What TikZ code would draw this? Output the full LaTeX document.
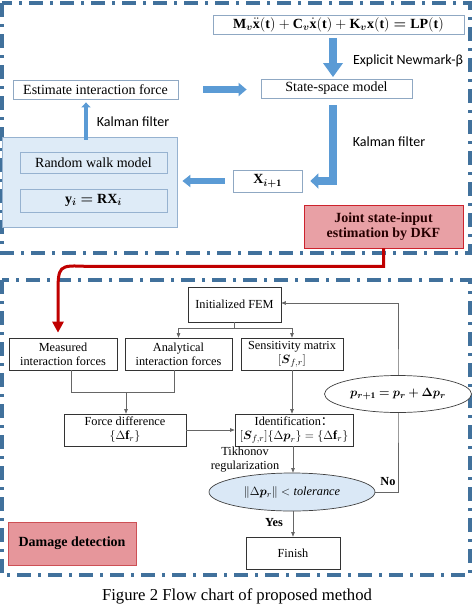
\documentclass[tikz,border=0pt]{standalone}
\usepackage{amsmath}
\usepackage{fontspec}
\setmainfont{Liberation Serif}
\newfontfamily\carl{Carlito}
\newfontfamily\cjk{Noto Sans CJK SC}
\usetikzlibrary{arrows.meta,shapes.geometric,backgrounds,calc}
\definecolor{barrowc}{RGB}{91,155,213}
\definecolor{framec}{RGB}{65,113,156}
\definecolor{panelfill}{RGB}{222,235,247}
\definecolor{panelline}{RGB}{150,178,208}
\definecolor{topline}{RGB}{143,168,195}
\definecolor{jointfill}{RGB}{232,160,165}
\definecolor{jointline}{RGB}{205,35,45}
\definecolor{dmgfill}{RGB}{230,150,155}
\definecolor{dmgline}{RGB}{205,80,85}
\definecolor{redarr}{RGB}{192,0,0}
\definecolor{tolfill}{RGB}{218,232,246}
\newcommand\topfs{\fontsize{14}{16}\selectfont}
\newcommand\botfs{\fontsize{12.3}{14}\selectfont}
\newcommand\bs[1]{\boldsymbol{#1}}
\tikzset{
  dframe/.style={draw=framec,line width=3.5pt,dash pattern=on 14pt off 7pt on 3pt off 7pt},
  topbox/.style={draw=topline,line width=0.8pt,fill=white,inner sep=0pt,font=\topfs},
  inbox/.style={draw=panelline,line width=0.8pt,fill=panelfill,inner sep=0pt,font=\topfs},
  botbox/.style={draw=black!80,line width=0.7pt,fill=white,inner sep=0pt,align=center,font=\botfs},
  lbl/.style={font=\carl\fontsize{14}{16}\selectfont,inner sep=0pt},
  barrow/.style={draw=barrowc,line join=miter},
  conn/.style={draw=black!60,line width=0.6pt,-{Triangle[length=4.5pt,width=3.5pt]}},
  plain/.style={draw=black!60,line width=0.6pt},
}
\begin{document}
\begin{tikzpicture}[x=1pt,y=-1pt]
\useasboundingbox (0,0) rectangle (474,606);
\draw[dframe] (2,3) rectangle (470,253);
\draw[dframe] (2,280) rectangle (470,575);
\node[topbox,minimum width=165pt,minimum height=19pt] (est) at (95.5,89.5) {Estimate interaction force};
\node[topbox,minimum width=151pt,minimum height=19pt] (ss) at (336.5,88.5) {State-space model};
\node[topbox,minimum width=251pt,minimum height=19pt] (eqn) at (338.5,24.5) {$\mathbf{M}_{\bs{v}}\ddot{\mathbf{x}}(\mathbf{t})+\mathbf{C}_{\bs{v}}\dot{\mathbf{x}}(\mathbf{t})+\mathbf{K}_{\bs{v}}\mathbf{x}(\mathbf{t})\bs{=}\mathbf{LP}(\mathbf{t})$};
\node[draw=panelline,line width=0.8pt,fill=panelfill,minimum width=175pt,minimum height=90pt,inner sep=0pt] (panel) at (89.5,182) {};
\node[inbox,minimum width=147pt,minimum height=21pt] (rw) at (93.5,162.5) {Random walk model};
\node[inbox,minimum width=147pt,minimum height=23pt] (yi) at (93.5,200.5) {$\mathbf{y}_{\bs{i}}\bs{=}\mathbf{RX}_{\bs{i}}$};
\node[topbox,minimum width=69pt,minimum height=22pt] (X) at (267.5,181) {$\mathbf{X}_{\bs{i}\bs{+}\mathbf{1}}$};
\node[draw=jointline,line width=0.9pt,fill=jointfill,minimum width=159pt,minimum height=43pt,inner sep=0pt,align=center,font=\bfseries\fontsize{14}{15}\selectfont,text=black!85!red] (joint) at (383.5,226.5) {Joint state-input\\estimation by DKF};
\node[lbl] (lnew) at (408,61) {Explicit Newmark-β};
\node[lbl] (lk1) at (133,122) {Kalman filter};
\node[lbl] (lk2) at (389,142) {Kalman filter};
\draw[barrow,line width=8pt,-{Triangle[length=14pt,width=19pt]}] ([xshift=-5.5pt,yshift=-4pt]eqn.south) -- ([xshift=-3.5pt,yshift=1.5pt]ss.north);
\draw[barrow,line width=6.5pt,-{Triangle[length=8pt,width=13pt]}] ([xshift=25pt]est.east) -- ([xshift=-14pt]ss.west |- est.east);
\draw[barrow,line width=4pt,-{Triangle[length=5pt,width=9pt]}] ([xshift=-3.5pt,yshift=-3pt]panel.north) -- ([xshift=-9.5pt,yshift=-3pt]est.south);
\draw[barrow,line width=7.5pt,-{Triangle[length=8pt,width=15pt]}] ([xshift=-3.5pt,yshift=-7pt]ss.south) |- ([xshift=8pt]X.east);
\draw[barrow,line width=6pt,-{Triangle[length=8pt,width=12pt]}] ([xshift=-8pt]X.west) -- ([xshift=5pt]panel.east |- X.west);
\node[botbox,minimum width=93pt,minimum height=35pt] (fem) at (234.5,304.5) {Initialized FEM};
\node[botbox,minimum width=108pt,minimum height=32pt] (meas) at (63,354) {Measured\\interaction forces};
\node[botbox,minimum width=107pt,minimum height=32pt] (anal) at (178.5,354) {Analytical\\interaction forces};
\node[botbox,minimum width=102pt,minimum height=32pt] (sens) at (292,354) {Sensitivity matrix\\$[\bs{S}_{f,r}]$};
\node[botbox,minimum width=122pt,minimum height=32pt] (fdiff) at (125,430) {Force difference\\$\{\Delta\mathbf{f}_r\}$};
\node[botbox,minimum width=118pt,minimum height=32pt] (ident) at (294,430) {Identification{\cjk ：}\\$[\bs{S}_{f,r}]\{\Delta\bs{p}_r\}=\{\Delta\mathbf{f}_r\}$};
\node[ellipse,draw=black!75,line width=0.7pt,fill=white,minimum width=147pt,minimum height=37pt,inner sep=0pt,font=\botfs] (pell) at (398,394) {$\bs{p}_{\bs{r}\bs{+}\mathbf{1}}\bs{=}\bs{p}_{\bs{r}}\bs{+}\bs{\Delta}\bs{p}_{\bs{r}}$};
\node[ellipse,draw=black!75,line width=0.7pt,fill=tolfill,minimum width=166pt,minimum height=38pt,inner sep=0pt,font=\botfs] (tol) at (292,492) {$\|\Delta\bs{p}_r\|<\textit{tolerance}$};
\node[botbox,minimum width=94pt,minimum height=32pt] (fin) at (293,553) {Finish};
\node[draw=dmgline,line width=0.9pt,fill=dmgfill,minimum width=128pt,minimum height=43pt,inner sep=0pt,font=\bfseries\fontsize{14}{16}\selectfont] (dmg) at (72,543.5) {Damage detection};
\node[font=\botfs,align=center,inner sep=0pt] (tik) at (245,460) {Tikhonov\\regularization};
\node[font=\bfseries\botfs,inner sep=0pt] (yes) at (274,523) {Yes};
\node[font=\bfseries\botfs,inner sep=0pt] (no) at (388,482) {No};
\draw[plain] (fem.south) -- ++(0,6) coordinate (j2);
\draw[conn] (j2) -| (anal.north);
\draw[conn] (j2) -| (sens.north);
\draw[plain] ([xshift=8pt]meas.south) -- ++(0,22) coordinate (j3) -| ([xshift=-4pt]anal.south);
\coordinate (j1) at (126,392);
\draw[conn] (j1) -- (j1 |- fdiff.north);
\draw[conn] (fdiff.east) -- (ident.west);
\draw[conn] (sens.south) -- (sens.south |- ident.north);
\draw[conn] ([xshift=-1pt]ident.south) -- ([xshift=-1pt]ident.south |- tol.north);
\draw[conn] ([xshift=1pt]tol.south) -- ([xshift=1pt]tol.south |- fin.north);
\begin{scope}[on background layer]
\draw[conn] (tol.east) -| (pell.center) |- ([yshift=1.5pt]fem.east);
\end{scope}
\coordinate (rx) at (88,0);
\draw[redarr,line width=3pt,-{Triangle[length=11pt,width=11pt]}] (joint.south) -- ([yshift=-18pt]joint.south) coordinate (r1) -- (r1 -| rx) .. controls (58,265) .. (58,296) -- ([xshift=-5pt,yshift=5pt]meas.north);
\node[font=\fontsize{16.7}{18}\selectfont,inner sep=0pt] (cap) at (237,596) {Figure 2 Flow chart of proposed method};
\end{tikzpicture}
\end{document}
